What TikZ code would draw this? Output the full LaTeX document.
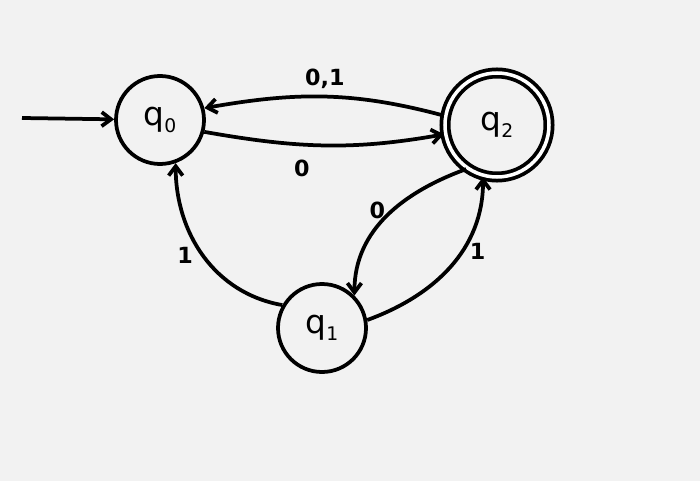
\documentclass[tikz,border=0pt]{standalone}
\usepackage{fontspec}
\setmainfont{DejaVu Sans}
\usetikzlibrary{arrows.meta}
\newcommand{\sq}[1]{q\raisebox{-0.35ex}{\fontsize{16}{18}\selectfont #1}}
\begin{document}
\begin{tikzpicture}[x=0.03cm,y=-0.03cm,
  st/.style={circle,draw,line width=3.2pt,minimum size=88*0.03cm,inner sep=0pt,font=\fontsize{28}{30}\selectfont},
  acc/.style={st,double,double distance=3pt,minimum size=104*0.03cm},
  ed/.style={line width=3.2pt,-{Straight Barb[length=8pt,width=12pt]}},
  lb/.style={font=\bfseries\fontsize{19}{21}\selectfont}]
\fill[gray!10] (0,0) rectangle (700,481);
\useasboundingbox (0,0) rectangle (700,481);
\node[st] (q0) at (160,120) {\sq{0}};
\node[acc] (q2) at (497,125) {\sq{2}};
\node[st] (q1) at (322,328) {\sq{1}};
\coordinate (s) at (22,118);
\draw[ed] (s) -- (q0);
\draw[ed] (q2.170) to[out=165,in=10] node[lb,above=2pt]{0,1} (q0.15);
\draw[ed] (q0.-15) to[out=-10,in=190] node[lb,below=8pt,pos=0.4]{0} (q2.190);
\draw[ed] (q2.235) to[out=200,in=90] node[lb,left=2pt,pos=0.45]{0} (q1.45);
\draw[ed] (q1.150) to[out=170,in=-90] node[lb,left=4pt,pos=0.5]{1} (q0.-70);
\draw[ed] (q1.10) to[out=20,in=-90] node[lb,right=2pt,pos=0.6]{1} (q2.-105);
\end{tikzpicture}
\end{document}
